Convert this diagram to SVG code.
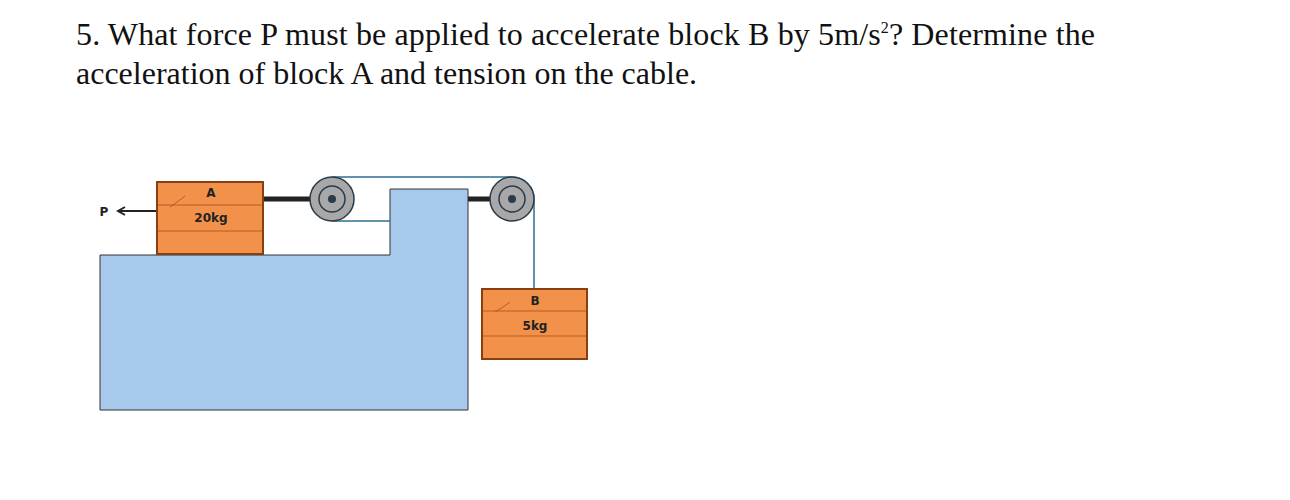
<svg xmlns="http://www.w3.org/2000/svg" width="1290" height="500" viewBox="0 0 1290 500">
<style>
.t{font-family:"Liberation Serif",serif;font-size:32px;fill:#111}
.lb{font-family:"DejaVu Sans",sans-serif;font-weight:bold;font-size:12px;fill:#222;text-anchor:middle}
.blk{fill:#f2914a;stroke:#8a3f12;stroke-width:2}
.grain{stroke:#b85a22;stroke-width:1;fill:none}
.cable{stroke:#2e6f93;stroke-width:1.5;fill:none}
.rod{stroke:#222;stroke-width:5}
</style>
<defs>
<marker id="ah" markerWidth="10" markerHeight="10" refX="8" refY="5" orient="auto" markerUnits="userSpaceOnUse"><path d="M1,1 L8,5 L1,9" fill="none" stroke="#222" stroke-width="2"/></marker>
<g id="pulley"><circle r="22" fill="#a8a8a8" stroke="#2a3b4a" stroke-width="1.5"/><circle r="13" fill="none" stroke="#2a3b4a" stroke-width="1.5"/><circle r="4" fill="#2a3b4a"/></g>
</defs>
<text class="t" x="76" y="45" textLength="1019" lengthAdjust="spacing">5. What force P must be applied to accelerate block B by 5m/s<tspan dy="-12" font-size="16">2</tspan><tspan dy="12">? Determine the</tspan></text>
<text class="t" x="76" y="84">acceleration of block A and tension on the cable.</text>
<g id="ground"><path d="M100,255 H390 V189 H468 V410 H100 Z" fill="#a6c9ec" stroke="#333" stroke-width="1"/></g>
<g id="connectors">
<path class="cable" d="M332,177 H512 A22,22 0 0 1 534,199 V290"/>
<path class="cable" d="M332,221 H390"/>
<line class="rod" x1="263" y1="199" x2="332" y2="199"/>
<line class="rod" x1="468" y1="199" x2="512" y2="199"/>
<line x1="156" y1="211" x2="118" y2="211" stroke="#222" stroke-width="2" marker-end="url(#ah)"/>
</g>
<text class="lb" x="104" y="216">P</text>
<g id="pulley1"><use href="#pulley" x="332" y="199"/></g>
<g id="pulley2"><use href="#pulley" x="512" y="199"/></g>
<g id="blockA">
<rect class="blk" x="157" y="182" width="106" height="72"/>
<path class="grain" d="M158,205 H262 M158,231 H262 M170,207 Q180,200 185,196"/>
<text class="lb" x="211" y="197">A</text>
<text class="lb" x="211" y="222">20kg</text>
</g>
<g id="blockB">
<rect class="blk" x="482" y="289" width="105" height="70"/>
<path class="grain" d="M483,311 H586 M483,336 H586 M495,312 Q505,306 510,302"/>
<text class="lb" x="535" y="305">B</text>
<text class="lb" x="535" y="330">5kg</text>
</g>
</svg>
